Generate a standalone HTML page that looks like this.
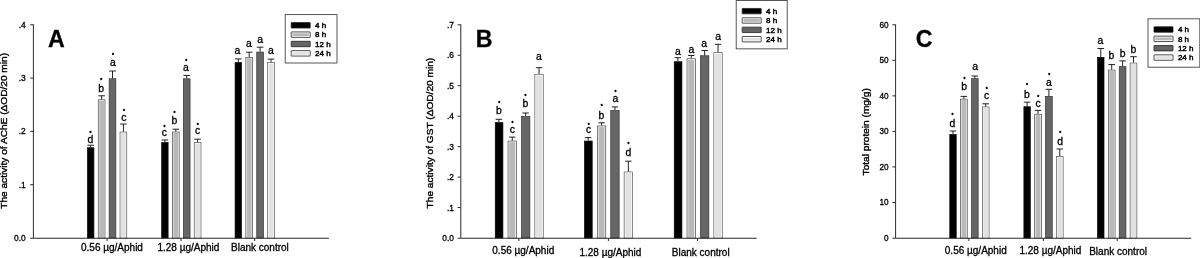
<!DOCTYPE html>
<html lang="en">
<head>
<meta charset="utf-8">
<title>Figure</title>
<style>
html,body{margin:0;padding:0;background:#fff;}
body{width:1200px;height:258px;overflow:hidden;}
svg{display:block;}
svg text{font-family:"Liberation Sans",sans-serif;fill:#000;stroke:#000;stroke-width:0.3px;}
svg text.yl{stroke-width:0.37px;}
svg text.lg{stroke-width:0.45px;}
svg text.st{stroke-width:0.35px;font-weight:bold;}
</style>
</head>
<body>
<svg width="1200" height="258" viewBox="0 0 1200 258">
<rect x="0" y="0" width="1200" height="258" fill="#ffffff"/>
<rect x="87.50" y="147.75" width="6.40" height="90.25" fill="#000000" stroke="#000" stroke-width="0.7"/>
<path d="M90.70 147.40V145.20M87.40 145.20H94.00" stroke="#222" stroke-width="1" fill="none"/>
<text x="90.40" y="142.50" font-size="10.4" text-anchor="middle" font-weight="normal" >d</text>
<text x="90.60" y="134.50" font-size="5" text-anchor="middle" font-weight="bold" class="st">*</text>
<rect x="98.25" y="99.75" width="6.70" height="138.25" fill="#fff" stroke="#444" stroke-width="0.7"/><rect x="99.15" y="100.65" width="4.90" height="137.35" fill="#b9b9b9"/>
<path d="M101.60 99.40V95.80M98.30 95.80H104.90" stroke="#222" stroke-width="1" fill="none"/>
<text x="101.10" y="92.00" font-size="10.4" text-anchor="middle" font-weight="normal" >b</text>
<text x="101.30" y="82.00" font-size="5" text-anchor="middle" font-weight="bold" class="st">*</text>
<rect x="109.15" y="78.75" width="6.70" height="159.25" fill="#666666" stroke="#333" stroke-width="0.7"/>
<path d="M112.50 78.40V71.00M109.20 71.00H115.80" stroke="#222" stroke-width="1" fill="none"/>
<text x="112.80" y="65.50" font-size="10.4" text-anchor="middle" font-weight="normal" >a</text>
<text x="113.00" y="57.10" font-size="5" text-anchor="middle" font-weight="bold" class="st">*</text>
<rect x="120.05" y="132.05" width="6.70" height="105.95" fill="#fff" stroke="#555" stroke-width="0.7"/><rect x="120.95" y="132.95" width="4.90" height="105.05" fill="#e2e2e2"/>
<path d="M123.40 131.70V124.00M120.10 124.00H126.70" stroke="#222" stroke-width="1" fill="none"/>
<text x="123.90" y="120.50" font-size="10.4" text-anchor="middle" font-weight="normal" >c</text>
<text x="124.10" y="113.00" font-size="5" text-anchor="middle" font-weight="bold" class="st">*</text>
<rect x="161.70" y="142.55" width="6.40" height="95.45" fill="#000000" stroke="#000" stroke-width="0.7"/>
<path d="M164.90 142.20V140.00M161.60 140.00H168.20" stroke="#222" stroke-width="1" fill="none"/>
<text x="164.40" y="135.50" font-size="10.4" text-anchor="middle" font-weight="normal" >c</text>
<text x="164.60" y="129.00" font-size="5" text-anchor="middle" font-weight="bold" class="st">*</text>
<rect x="172.45" y="132.05" width="6.70" height="105.95" fill="#fff" stroke="#444" stroke-width="0.7"/><rect x="173.35" y="132.95" width="4.90" height="105.05" fill="#b9b9b9"/>
<path d="M175.80 131.70V129.20M172.50 129.20H179.10" stroke="#222" stroke-width="1" fill="none"/>
<text x="174.30" y="124.30" font-size="10.4" text-anchor="middle" font-weight="normal" >b</text>
<text x="174.50" y="114.90" font-size="5" text-anchor="middle" font-weight="bold" class="st">*</text>
<rect x="183.35" y="78.75" width="6.70" height="159.25" fill="#666666" stroke="#333" stroke-width="0.7"/>
<path d="M186.70 78.40V75.40M183.40 75.40H190.00" stroke="#222" stroke-width="1" fill="none"/>
<text x="186.00" y="71.00" font-size="10.4" text-anchor="middle" font-weight="normal" >a</text>
<text x="186.20" y="63.30" font-size="5" text-anchor="middle" font-weight="bold" class="st">*</text>
<rect x="194.25" y="142.55" width="6.70" height="95.45" fill="#fff" stroke="#555" stroke-width="0.7"/><rect x="195.15" y="143.45" width="4.90" height="94.55" fill="#e2e2e2"/>
<path d="M197.60 142.20V139.20M194.30 139.20H200.90" stroke="#222" stroke-width="1" fill="none"/>
<text x="197.60" y="133.50" font-size="10.4" text-anchor="middle" font-weight="normal" >c</text>
<text x="197.80" y="126.60" font-size="5" text-anchor="middle" font-weight="bold" class="st">*</text>
<rect x="235.10" y="62.55" width="6.40" height="175.45" fill="#000000" stroke="#000" stroke-width="0.7"/>
<path d="M238.30 62.20V58.90M235.00 58.90H241.60" stroke="#222" stroke-width="1" fill="none"/>
<text x="237.40" y="54.20" font-size="10.4" text-anchor="middle" font-weight="normal" >a</text>
<rect x="245.85" y="57.35" width="6.70" height="180.65" fill="#fff" stroke="#444" stroke-width="0.7"/><rect x="246.75" y="58.25" width="4.90" height="179.75" fill="#b9b9b9"/>
<path d="M249.20 57.00V52.20M245.90 52.20H252.50" stroke="#222" stroke-width="1" fill="none"/>
<text x="249.00" y="47.20" font-size="10.4" text-anchor="middle" font-weight="normal" >a</text>
<rect x="256.75" y="52.05" width="6.70" height="185.95" fill="#666666" stroke="#333" stroke-width="0.7"/>
<path d="M260.10 51.70V47.20M256.80 47.20H263.40" stroke="#222" stroke-width="1" fill="none"/>
<text x="260.20" y="42.80" font-size="10.4" text-anchor="middle" font-weight="normal" >a</text>
<rect x="267.65" y="62.55" width="6.70" height="175.45" fill="#fff" stroke="#555" stroke-width="0.7"/><rect x="268.55" y="63.45" width="4.90" height="174.55" fill="#e2e2e2"/>
<path d="M271.00 62.20V59.10M267.70 59.10H274.30" stroke="#222" stroke-width="1" fill="none"/>
<text x="270.90" y="54.20" font-size="10.4" text-anchor="middle" font-weight="normal" >a</text>
<path d="M33.40 24.30V238.25H329.00" stroke="#2a2a2a" stroke-width="1" fill="none"/>
<path d="M30.20 238.25H33.20" stroke="#2a2a2a" stroke-width="1"/>
<text transform="translate(25.70 241.23) scale(1 1.08)" font-size="8.4" text-anchor="end">0.0</text>
<path d="M30.20 184.70H33.20" stroke="#2a2a2a" stroke-width="1"/>
<text transform="translate(25.70 187.68) scale(1 1.08)" font-size="8.4" text-anchor="end">.1</text>
<path d="M30.20 131.40H33.20" stroke="#2a2a2a" stroke-width="1"/>
<text transform="translate(25.70 134.38) scale(1 1.08)" font-size="8.4" text-anchor="end">.2</text>
<path d="M30.20 78.10H33.20" stroke="#2a2a2a" stroke-width="1"/>
<text transform="translate(25.70 81.08) scale(1 1.08)" font-size="8.4" text-anchor="end">.3</text>
<path d="M30.20 24.80H33.20" stroke="#2a2a2a" stroke-width="1"/>
<text transform="translate(25.70 27.78) scale(1 1.08)" font-size="8.4" text-anchor="end">.4</text>
<path d="M107.10 238.00V241.00" stroke="#2a2a2a" stroke-width="1"/>
<text x="81.00" y="250.60" font-size="10" text-anchor="start" font-weight="normal" >0.56 µg/Aphid</text>
<path d="M181.00 238.00V241.00" stroke="#2a2a2a" stroke-width="1"/>
<text x="157.40" y="250.60" font-size="10" text-anchor="start" font-weight="normal" >1.28 µg/Aphid</text>
<path d="M254.70 238.00V241.00" stroke="#2a2a2a" stroke-width="1"/>
<text x="231.00" y="250.60" font-size="10" text-anchor="start" font-weight="normal" >Blank control</text>
<text transform="translate(7.40 208.80) rotate(-90) scale(1.045 1)" font-size="9.7" class="yl">The activity of AChE (ΔOD/20 min)</text>
<text x="48.00" y="47.00" font-size="23.2" text-anchor="start" font-weight="bold" >A</text>
<rect x="285.20" y="14.60" width="51.8" height="48.4" fill="#fff" stroke="#444" stroke-width="0.9"/>
<rect x="291.20" y="22.60" width="19" height="5.4" rx="0.3" fill="#000000" stroke="#222" stroke-width="0.8"/>
<text x="315.10" y="28.10" font-size="8" text-anchor="start" font-weight="normal" class="lg">4 h</text>
<rect x="291.20" y="31.95" width="19" height="5.4" rx="0.3" fill="#fff" stroke="#222" stroke-width="0.8"/>
<rect x="292.50" y="33.25" width="16.4" height="2.8" fill="#b9b9b9"/>
<text x="315.10" y="37.45" font-size="8" text-anchor="start" font-weight="normal" class="lg">8 h</text>
<rect x="291.20" y="41.30" width="19" height="5.4" rx="0.3" fill="#666666" stroke="#222" stroke-width="0.8"/>
<text x="315.10" y="46.80" font-size="8" text-anchor="start" font-weight="normal" class="lg">12 h</text>
<rect x="291.20" y="50.65" width="19" height="5.4" rx="0.3" fill="#fff" stroke="#222" stroke-width="0.8"/>
<rect x="292.50" y="51.95" width="16.4" height="2.8" fill="#e2e2e2"/>
<text x="315.10" y="56.15" font-size="8" text-anchor="start" font-weight="normal" class="lg">24 h</text>
<rect x="495.25" y="122.65" width="7.65" height="115.35" fill="#000000" stroke="#000" stroke-width="0.7"/>
<path d="M498.85 122.30V119.30M495.65 119.30H502.05" stroke="#222" stroke-width="1" fill="none"/>
<text x="499.00" y="114.00" font-size="10.4" text-anchor="middle" font-weight="normal" >b</text>
<text x="499.20" y="104.70" font-size="5" text-anchor="middle" font-weight="bold" class="st">*</text>
<rect x="508.05" y="141.05" width="8.40" height="96.95" fill="#fff" stroke="#444" stroke-width="0.7"/><rect x="509.20" y="142.20" width="6.10" height="95.80" fill="#b9b9b9"/>
<path d="M512.25 140.70V137.10M509.05 137.10H515.45" stroke="#222" stroke-width="1" fill="none"/>
<text x="512.30" y="132.70" font-size="10.4" text-anchor="middle" font-weight="normal" >c</text>
<text x="512.50" y="125.30" font-size="5" text-anchor="middle" font-weight="bold" class="st">*</text>
<rect x="521.45" y="116.45" width="8.40" height="121.55" fill="#666666" stroke="#333" stroke-width="0.7"/>
<path d="M525.65 116.10V113.00M522.45 113.00H528.85" stroke="#222" stroke-width="1" fill="none"/>
<text x="525.40" y="107.40" font-size="10.4" text-anchor="middle" font-weight="normal" >b</text>
<text x="525.60" y="97.50" font-size="5" text-anchor="middle" font-weight="bold" class="st">*</text>
<rect x="534.85" y="74.25" width="8.40" height="163.75" fill="#fff" stroke="#555" stroke-width="0.7"/><rect x="536.00" y="75.40" width="6.10" height="162.60" fill="#e2e2e2"/>
<path d="M539.05 73.90V67.70M535.85 67.70H542.25" stroke="#222" stroke-width="1" fill="none"/>
<text x="539.00" y="60.30" font-size="10.4" text-anchor="middle" font-weight="normal" >a</text>
<rect x="584.55" y="141.05" width="7.65" height="96.95" fill="#000000" stroke="#000" stroke-width="0.7"/>
<path d="M588.15 140.70V137.60M584.95 137.60H591.35" stroke="#222" stroke-width="1" fill="none"/>
<text x="588.60" y="133.40" font-size="10.4" text-anchor="middle" font-weight="normal" >c</text>
<text x="588.80" y="127.20" font-size="5" text-anchor="middle" font-weight="bold" class="st">*</text>
<rect x="597.35" y="125.95" width="8.40" height="112.05" fill="#fff" stroke="#444" stroke-width="0.7"/><rect x="598.50" y="127.10" width="6.10" height="110.90" fill="#b9b9b9"/>
<path d="M601.55 125.60V122.80M598.35 122.80H604.75" stroke="#222" stroke-width="1" fill="none"/>
<text x="601.50" y="118.50" font-size="10.4" text-anchor="middle" font-weight="normal" >b</text>
<text x="601.70" y="108.40" font-size="5" text-anchor="middle" font-weight="bold" class="st">*</text>
<rect x="610.75" y="110.55" width="8.40" height="127.45" fill="#666666" stroke="#333" stroke-width="0.7"/>
<path d="M614.95 110.20V106.90M611.75 106.90H618.15" stroke="#222" stroke-width="1" fill="none"/>
<text x="615.40" y="102.40" font-size="10.4" text-anchor="middle" font-weight="normal" >a</text>
<text x="615.60" y="94.20" font-size="5" text-anchor="middle" font-weight="bold" class="st">*</text>
<rect x="624.15" y="171.95" width="8.40" height="66.05" fill="#fff" stroke="#555" stroke-width="0.7"/><rect x="625.30" y="173.10" width="6.10" height="64.90" fill="#e2e2e2"/>
<path d="M628.35 171.60V161.20M625.15 161.20H631.55" stroke="#222" stroke-width="1" fill="none"/>
<text x="628.30" y="155.50" font-size="10.4" text-anchor="middle" font-weight="normal" >d</text>
<text x="628.50" y="146.30" font-size="5" text-anchor="middle" font-weight="bold" class="st">*</text>
<rect x="674.25" y="61.75" width="7.65" height="176.25" fill="#000000" stroke="#000" stroke-width="0.7"/>
<path d="M677.85 61.40V57.70M674.65 57.70H681.05" stroke="#222" stroke-width="1" fill="none"/>
<text x="678.00" y="55.20" font-size="10.4" text-anchor="middle" font-weight="normal" >a</text>
<rect x="687.05" y="58.75" width="8.40" height="179.25" fill="#fff" stroke="#444" stroke-width="0.7"/><rect x="688.20" y="59.90" width="6.10" height="178.10" fill="#b9b9b9"/>
<path d="M691.25 58.40V55.50M688.05 55.50H694.45" stroke="#222" stroke-width="1" fill="none"/>
<text x="691.40" y="52.80" font-size="10.4" text-anchor="middle" font-weight="normal" >a</text>
<rect x="700.45" y="55.75" width="8.40" height="182.25" fill="#666666" stroke="#333" stroke-width="0.7"/>
<path d="M704.65 55.40V50.50M701.45 50.50H707.85" stroke="#222" stroke-width="1" fill="none"/>
<text x="704.10" y="46.80" font-size="10.4" text-anchor="middle" font-weight="normal" >a</text>
<rect x="713.85" y="52.65" width="8.40" height="185.35" fill="#fff" stroke="#555" stroke-width="0.7"/><rect x="715.00" y="53.80" width="6.10" height="184.20" fill="#e2e2e2"/>
<path d="M718.05 52.30V44.30M714.85 44.30H721.25" stroke="#222" stroke-width="1" fill="none"/>
<text x="718.20" y="39.90" font-size="10.4" text-anchor="middle" font-weight="normal" >a</text>
<path d="M460.80 24.30V238.25H756.70" stroke="#2a2a2a" stroke-width="1" fill="none"/>
<path d="M457.60 238.25H460.60" stroke="#2a2a2a" stroke-width="1"/>
<text transform="translate(454.00 241.23) scale(1 1.08)" font-size="8.4" text-anchor="end">0.0</text>
<path d="M457.60 207.54H460.60" stroke="#2a2a2a" stroke-width="1"/>
<text transform="translate(454.00 210.52) scale(1 1.08)" font-size="8.4" text-anchor="end">.1</text>
<path d="M457.60 177.09H460.60" stroke="#2a2a2a" stroke-width="1"/>
<text transform="translate(454.00 180.07) scale(1 1.08)" font-size="8.4" text-anchor="end">.2</text>
<path d="M457.60 146.63H460.60" stroke="#2a2a2a" stroke-width="1"/>
<text transform="translate(454.00 149.61) scale(1 1.08)" font-size="8.4" text-anchor="end">.3</text>
<path d="M457.60 116.17H460.60" stroke="#2a2a2a" stroke-width="1"/>
<text transform="translate(454.00 119.15) scale(1 1.08)" font-size="8.4" text-anchor="end">.4</text>
<path d="M457.60 85.71H460.60" stroke="#2a2a2a" stroke-width="1"/>
<text transform="translate(454.00 88.70) scale(1 1.08)" font-size="8.4" text-anchor="end">.5</text>
<path d="M457.60 55.26H460.60" stroke="#2a2a2a" stroke-width="1"/>
<text transform="translate(454.00 58.24) scale(1 1.08)" font-size="8.4" text-anchor="end">.6</text>
<path d="M457.60 24.80H460.60" stroke="#2a2a2a" stroke-width="1"/>
<text transform="translate(454.00 27.78) scale(1 1.08)" font-size="8.4" text-anchor="end">.7</text>
<path d="M518.80 238.00V241.00" stroke="#2a2a2a" stroke-width="1"/>
<text x="492.30" y="254.00" font-size="10" text-anchor="start" font-weight="normal" >0.56 µg/Aphid</text>
<path d="M608.40 238.00V241.00" stroke="#2a2a2a" stroke-width="1"/>
<text x="579.40" y="255.80" font-size="10" text-anchor="start" font-weight="normal" >1.28 µg/Aphid</text>
<path d="M697.60 238.00V241.00" stroke="#2a2a2a" stroke-width="1"/>
<text x="671.80" y="256.00" font-size="10" text-anchor="start" font-weight="normal" >Blank control</text>
<text transform="translate(433.30 208.40) rotate(-90) scale(1.045 1)" font-size="9.7" class="yl">The activity of GST (ΔOD/20 min)</text>
<text x="475.80" y="46.70" font-size="23.2" text-anchor="start" font-weight="bold" >B</text>
<rect x="736.20" y="0.45" width="51.0" height="48.4" fill="#fff" stroke="#444" stroke-width="0.9"/>
<rect x="742.20" y="8.45" width="19" height="5.4" rx="0.3" fill="#000000" stroke="#222" stroke-width="0.8"/>
<text x="766.10" y="13.95" font-size="8" text-anchor="start" font-weight="normal" class="lg">4 h</text>
<rect x="742.20" y="17.80" width="19" height="5.4" rx="0.3" fill="#fff" stroke="#222" stroke-width="0.8"/>
<rect x="743.50" y="19.10" width="16.4" height="2.8" fill="#b9b9b9"/>
<text x="766.10" y="23.30" font-size="8" text-anchor="start" font-weight="normal" class="lg">8 h</text>
<rect x="742.20" y="27.15" width="19" height="5.4" rx="0.3" fill="#666666" stroke="#222" stroke-width="0.8"/>
<text x="766.10" y="32.65" font-size="8" text-anchor="start" font-weight="normal" class="lg">12 h</text>
<rect x="742.20" y="36.50" width="19" height="5.4" rx="0.3" fill="#fff" stroke="#222" stroke-width="0.8"/>
<rect x="743.50" y="37.80" width="16.4" height="2.8" fill="#e2e2e2"/>
<text x="766.10" y="42.00" font-size="8" text-anchor="start" font-weight="normal" class="lg">24 h</text>
<rect x="949.80" y="134.55" width="6.40" height="103.45" fill="#000000" stroke="#000" stroke-width="0.7"/>
<path d="M953.00 134.20V131.00M949.70 131.00H956.30" stroke="#222" stroke-width="1" fill="none"/>
<text x="952.30" y="126.80" font-size="10.4" text-anchor="middle" font-weight="normal" >d</text>
<text x="952.50" y="117.00" font-size="5" text-anchor="middle" font-weight="bold" class="st">*</text>
<rect x="960.55" y="99.15" width="6.70" height="138.85" fill="#fff" stroke="#444" stroke-width="0.7"/><rect x="961.45" y="100.05" width="4.90" height="137.95" fill="#b9b9b9"/>
<path d="M963.90 98.80V96.40M960.60 96.40H967.20" stroke="#222" stroke-width="1" fill="none"/>
<text x="964.20" y="90.20" font-size="10.4" text-anchor="middle" font-weight="normal" >b</text>
<text x="964.40" y="80.80" font-size="5" text-anchor="middle" font-weight="bold" class="st">*</text>
<rect x="971.45" y="78.65" width="6.70" height="159.35" fill="#666666" stroke="#333" stroke-width="0.7"/>
<path d="M974.80 78.30V76.00M971.50 76.00H978.10" stroke="#222" stroke-width="1" fill="none"/>
<text x="975.20" y="69.90" font-size="10.4" text-anchor="middle" font-weight="normal" >a</text>
<rect x="982.35" y="106.95" width="6.70" height="131.05" fill="#fff" stroke="#555" stroke-width="0.7"/><rect x="983.25" y="107.85" width="4.90" height="130.15" fill="#e2e2e2"/>
<path d="M985.70 106.60V103.80M982.40 103.80H989.00" stroke="#222" stroke-width="1" fill="none"/>
<text x="986.60" y="99.10" font-size="10.4" text-anchor="middle" font-weight="normal" >c</text>
<text x="986.80" y="90.70" font-size="5" text-anchor="middle" font-weight="bold" class="st">*</text>
<rect x="1023.90" y="106.75" width="6.40" height="131.25" fill="#000000" stroke="#000" stroke-width="0.7"/>
<path d="M1027.10 106.40V102.20M1023.80 102.20H1030.40" stroke="#222" stroke-width="1" fill="none"/>
<text x="1026.90" y="97.70" font-size="10.4" text-anchor="middle" font-weight="normal" >b</text>
<text x="1027.10" y="87.00" font-size="5" text-anchor="middle" font-weight="bold" class="st">*</text>
<rect x="1034.65" y="114.25" width="6.70" height="123.75" fill="#fff" stroke="#444" stroke-width="0.7"/><rect x="1035.55" y="115.15" width="4.90" height="122.85" fill="#b9b9b9"/>
<path d="M1038.00 113.90V110.40M1034.70 110.40H1041.30" stroke="#222" stroke-width="1" fill="none"/>
<text x="1038.00" y="106.70" font-size="10.4" text-anchor="middle" font-weight="normal" >c</text>
<text x="1038.20" y="99.00" font-size="5" text-anchor="middle" font-weight="bold" class="st">*</text>
<rect x="1045.55" y="96.35" width="6.70" height="141.65" fill="#666666" stroke="#333" stroke-width="0.7"/>
<path d="M1048.90 96.00V89.30M1045.60 89.30H1052.20" stroke="#222" stroke-width="1" fill="none"/>
<text x="1049.00" y="85.60" font-size="10.4" text-anchor="middle" font-weight="normal" >a</text>
<text x="1049.20" y="77.10" font-size="5" text-anchor="middle" font-weight="bold" class="st">*</text>
<rect x="1056.45" y="156.45" width="6.70" height="81.55" fill="#fff" stroke="#555" stroke-width="0.7"/><rect x="1057.35" y="157.35" width="4.90" height="80.65" fill="#e2e2e2"/>
<path d="M1059.80 156.10V149.00M1056.50 149.00H1063.10" stroke="#222" stroke-width="1" fill="none"/>
<text x="1060.10" y="144.80" font-size="10.4" text-anchor="middle" font-weight="normal" >d</text>
<text x="1060.30" y="135.00" font-size="5" text-anchor="middle" font-weight="bold" class="st">*</text>
<rect x="1097.60" y="57.35" width="6.40" height="180.65" fill="#000000" stroke="#000" stroke-width="0.7"/>
<path d="M1100.80 57.00V48.50M1097.50 48.50H1104.10" stroke="#222" stroke-width="1" fill="none"/>
<text x="1100.30" y="43.50" font-size="10.4" text-anchor="middle" font-weight="normal" >a</text>
<rect x="1108.35" y="70.05" width="6.70" height="167.95" fill="#fff" stroke="#444" stroke-width="0.7"/><rect x="1109.25" y="70.95" width="4.90" height="167.05" fill="#b9b9b9"/>
<path d="M1111.70 69.70V64.60M1108.40 64.60H1115.00" stroke="#222" stroke-width="1" fill="none"/>
<text x="1111.50" y="59.10" font-size="10.4" text-anchor="middle" font-weight="normal" >b</text>
<rect x="1119.25" y="66.65" width="6.70" height="171.35" fill="#666666" stroke="#333" stroke-width="0.7"/>
<path d="M1122.60 66.30V60.90M1119.30 60.90H1125.90" stroke="#222" stroke-width="1" fill="none"/>
<text x="1122.70" y="56.70" font-size="10.4" text-anchor="middle" font-weight="normal" >b</text>
<rect x="1130.15" y="63.05" width="6.70" height="174.95" fill="#fff" stroke="#555" stroke-width="0.7"/><rect x="1131.05" y="63.95" width="4.90" height="174.05" fill="#e2e2e2"/>
<path d="M1133.50 62.70V56.70M1130.20 56.70H1136.80" stroke="#222" stroke-width="1" fill="none"/>
<text x="1133.30" y="52.70" font-size="10.4" text-anchor="middle" font-weight="normal" >b</text>
<path d="M895.60 24.30V238.25H1191.20" stroke="#2a2a2a" stroke-width="1" fill="none"/>
<path d="M892.40 238.25H895.40" stroke="#2a2a2a" stroke-width="1"/>
<text transform="translate(888.60 241.16) scale(1 1.08)" font-size="8.2" text-anchor="end">0</text>
<path d="M892.40 202.47H895.40" stroke="#2a2a2a" stroke-width="1"/>
<text transform="translate(888.60 205.38) scale(1 1.08)" font-size="8.2" text-anchor="end">10</text>
<path d="M892.40 166.93H895.40" stroke="#2a2a2a" stroke-width="1"/>
<text transform="translate(888.60 169.84) scale(1 1.08)" font-size="8.2" text-anchor="end">20</text>
<path d="M892.40 131.40H895.40" stroke="#2a2a2a" stroke-width="1"/>
<text transform="translate(888.60 134.31) scale(1 1.08)" font-size="8.2" text-anchor="end">30</text>
<path d="M892.40 95.87H895.40" stroke="#2a2a2a" stroke-width="1"/>
<text transform="translate(888.60 98.78) scale(1 1.08)" font-size="8.2" text-anchor="end">40</text>
<path d="M892.40 60.33H895.40" stroke="#2a2a2a" stroke-width="1"/>
<text transform="translate(888.60 63.24) scale(1 1.08)" font-size="8.2" text-anchor="end">50</text>
<path d="M892.40 24.80H895.40" stroke="#2a2a2a" stroke-width="1"/>
<text transform="translate(888.60 27.71) scale(1 1.08)" font-size="8.2" text-anchor="end">60</text>
<path d="M968.90 238.00V241.00" stroke="#2a2a2a" stroke-width="1"/>
<text x="944.80" y="253.50" font-size="10" text-anchor="start" font-weight="normal" >0.56 µg/Aphid</text>
<path d="M1043.40 238.00V241.00" stroke="#2a2a2a" stroke-width="1"/>
<text x="1019.40" y="254.00" font-size="10" text-anchor="start" font-weight="normal" >1.28 µg/Aphid</text>
<path d="M1117.20 238.00V241.00" stroke="#2a2a2a" stroke-width="1"/>
<text x="1089.20" y="255.00" font-size="10" text-anchor="start" font-weight="normal" >Blank control</text>
<text transform="translate(869.30 175.40) rotate(-90) scale(1.045 1)" font-size="9.7" class="yl">Total protein (mg/g)</text>
<text x="915.70" y="47.00" font-size="23.2" text-anchor="start" font-weight="bold" >C</text>
<rect x="1148.00" y="18.80" width="51.8" height="48.4" fill="#fff" stroke="#444" stroke-width="0.9"/>
<rect x="1154.00" y="26.80" width="19" height="5.4" rx="0.3" fill="#000000" stroke="#222" stroke-width="0.8"/>
<text x="1177.90" y="32.30" font-size="8" text-anchor="start" font-weight="normal" class="lg">4 h</text>
<rect x="1154.00" y="36.15" width="19" height="5.4" rx="0.3" fill="#fff" stroke="#222" stroke-width="0.8"/>
<rect x="1155.30" y="37.45" width="16.4" height="2.8" fill="#b9b9b9"/>
<text x="1177.90" y="41.65" font-size="8" text-anchor="start" font-weight="normal" class="lg">8 h</text>
<rect x="1154.00" y="45.50" width="19" height="5.4" rx="0.3" fill="#666666" stroke="#222" stroke-width="0.8"/>
<text x="1177.90" y="51.00" font-size="8" text-anchor="start" font-weight="normal" class="lg">12 h</text>
<rect x="1154.00" y="54.85" width="19" height="5.4" rx="0.3" fill="#fff" stroke="#222" stroke-width="0.8"/>
<rect x="1155.30" y="56.15" width="16.4" height="2.8" fill="#e2e2e2"/>
<text x="1177.90" y="60.35" font-size="8" text-anchor="start" font-weight="normal" class="lg">24 h</text>
</svg>
</body>
</html>
